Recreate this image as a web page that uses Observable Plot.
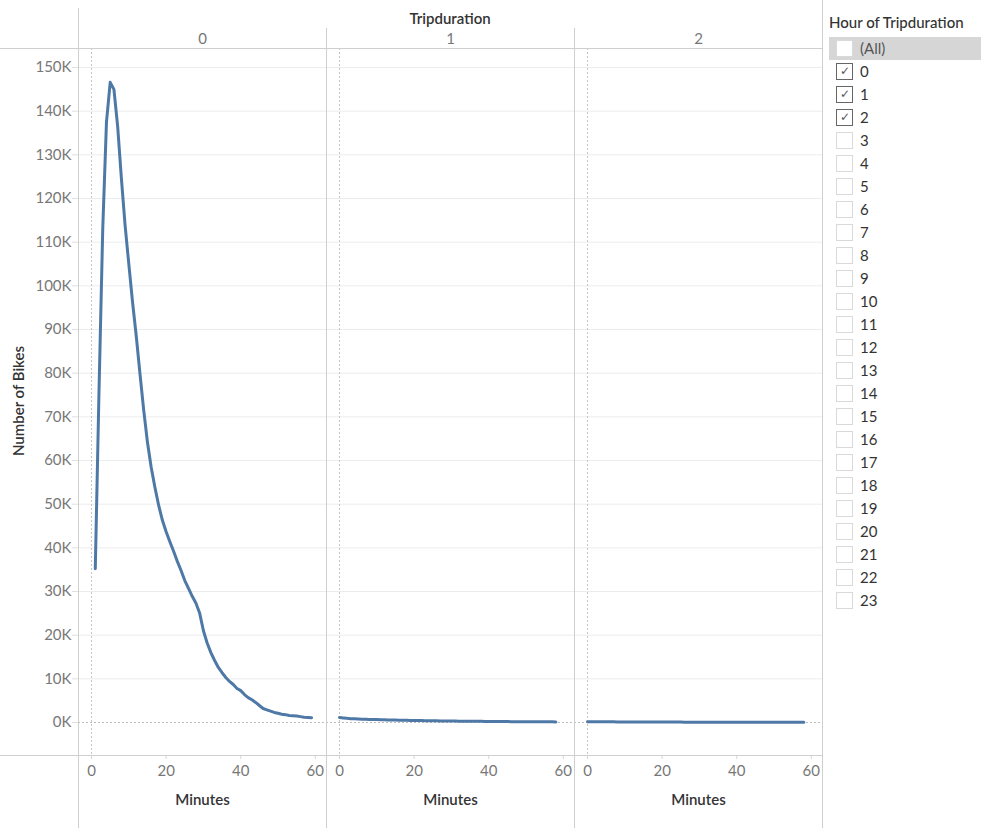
<!DOCTYPE html>
<html>
<head>
<meta charset="utf-8">
<script src="https://cdn.jsdelivr.net/npm/d3@7"></script>
<script src="https://cdn.jsdelivr.net/npm/@observablehq/plot@0.6"></script>
<style>
  body { margin: 0; background: #fff; font-family: Lato, "Open Sans", sans-serif; }
  #wrap { position: relative; width: 985px; height: 828px; overflow: hidden; }
  #chart { position: absolute; left: 0; top: 0; }
  #title { position: absolute; left: 78px; width: 744px; top: 8px; text-align: center; font-size: 15px; font-weight: 600; color: #333; line-height: 20px; }
  #ylabel { position: absolute; left: 18px; top: 401px; transform: translate(-50%, -50%) rotate(-90deg); white-space: nowrap; font-size: 15px; font-weight: 600; color: #333; }
  #legend { position: absolute; left: 822px; top: 0; width: 163px; height: 828px; border-left: 1px solid #cfcfcf; }
  #legend .ltitle { position: absolute; left: 6px; top: 12px; font-size: 15px; color: #333; font-weight: 500; line-height: 20px; white-space: nowrap; }
  #legend .row { position: absolute; left: 6px; width: 152px; height: 23px; font-size: 15px; color: #333; line-height: 23px; }
  #legend .row.all { background: #d6d6d6; color: #555; }
  #legend .box { position: absolute; left: 7px; top: 3px; width: 15px; height: 15px; border: 1px solid #d9d9d9; background: #fff; box-sizing: content-box; }
  #legend .box.on { border-color: #666; }
  #legend .box.on::after { content: "✓"; position: absolute; left: 3px; top: -4px; font-size: 12px; color: #555; font-family: "DejaVu Sans"; }
  #legend .lab { position: absolute; left: 31px; top: 0; }
  #chart svg g[aria-label="y-axis tick"] path, #chart svg g[aria-label="y-axis"] line { stroke: #e0e0e0; }
  #chart svg g[aria-label="x-axis tick"] path, #chart svg g[aria-label="x-axis"] line { stroke: #d6d6d6; }
</style>
</head>
<body>
<div id="wrap">
  <div id="chart"></div>
  <div id="title">Tripduration</div>
  <div id="ylabel">Number of Bikes</div>
  <div id="legend"></div>
</div>
<script>
// ---- data ----
const hours = ["0", "1", "2"];
const startMinute = [1, 0, 0];
// Number of bikes per minute of trip duration (hour 0, minutes 1..59)
const bikes0 = [35200, 76000, 113000, 137500, 146600, 145000, 136500, 124600, 113800, 104900,
  96200, 88400, 79700, 71400, 64100, 58400, 53800, 49700, 46300, 43700,
  41400, 39200, 36900, 34800, 32500, 30700, 28900, 27300, 25000, 21000,
  18200, 16000, 14200, 12600, 11400, 10300, 9400, 8700, 7800, 7300,
  6400, 5700, 5200, 4600, 3900, 3200, 2900, 2600, 2300, 2100,
  1900, 1800, 1600, 1550, 1500, 1350, 1200, 1150, 1100];
// hour 1, minutes 0..58
const bikes1 = [1150, 1050, 950, 880, 840, 800, 770, 740, 710, 680,
  660, 630, 610, 590, 570, 550, 530, 510, 490, 470,
  460, 440, 430, 410, 400, 390, 380, 360, 350, 340,
  330, 320, 310, 300, 300, 290, 280, 270, 260, 250,
  240, 240, 230, 220, 220, 210, 200, 200, 190, 190,
  180, 180, 170, 170, 160, 160, 150, 150, 140];
// hour 2, minutes 0..58
const bikes2 = [200, 190, 180, 170, 160, 160, 150, 150, 140, 140,
  130, 130, 120, 120, 120, 110, 110, 110, 100, 100,
  100, 100, 90, 90, 90, 90, 80, 80, 80, 80,
  80, 70, 70, 70, 70, 70, 70, 60, 60, 60,
  60, 60, 60, 60, 50, 50, 50, 50, 50, 50,
  50, 50, 40, 40, 40, 40, 40, 40, 40];
const yTicks = [0, 10000, 20000, 30000, 40000, 50000, 60000, 70000, 80000, 90000, 100000, 110000, 120000, 130000, 140000, 150000];
const xTicks = [0, 20, 40, 60];
const legendItems = ["(All)", "0", "1", "2", "3", "4", "5", "6", "7", "8", "9", "10", "11", "12", "13", "14", "15", "16", "17", "18", "19", "20", "21", "22", "23"];
const checkedItems = ["0", "1", "2"];

// ---- table ----
const series = [bikes0, bikes1, bikes2];
const rows = hours.flatMap((h, i) => series[i].map((v, j) => ({hour: h, minute: startMinute[i] + j, bikes: v})));

// ---- layout ----
const W = 822, H = 828, ML = 78, MT = 48, MB = 73;

const chart = Plot.plot({
  width: W, height: H,
  marginLeft: ML, marginRight: 0, marginTop: MT, marginBottom: MB,
  style: {fontFamily: "Lato, 'Open Sans', sans-serif", fontSize: "15px", color: "#777", background: "transparent", overflow: "visible"},
  facet: {data: rows, x: "hour"},
  fx: {domain: hours, padding: 0, axis: "top", tickSize: 0, tickPadding: 5, label: null},
  x: {domain: [-3.5, 63], ticks: xTicks, tickSize: 4, tickPadding: 6, label: null},
  y: {domain: [-7557, 154351], ticks: yTicks, tickFormat: d => `${d / 1000}K`, tickSize: 6, tickPadding: 1, label: null},
  marks: [
    Plot.ruleY(yTicks.filter(d => d > 0), {stroke: "#ececec", strokeWidth: 1}),
    Plot.ruleY([0], {stroke: "#bdbdbd", strokeDasharray: "2,2"}),
    Plot.ruleX([0], {stroke: "#c4c4c4", strokeDasharray: "2,2"}),
    Plot.line(rows, {x: "minute", y: "bikes", z: "hour", stroke: "#4e79a7", strokeWidth: 3, strokeLinejoin: "round", strokeLinecap: "round"}),
    Plot.text(["Minutes"], {text: d => d, frameAnchor: "bottom", lineAnchor: "middle", dy: 45, fill: "#333", fontSize: 15, fontWeight: 600})
  ]
});
document.getElementById("chart").appendChild(chart);

// ---- Tableau-style pane borders ----
const svg = d3.select(chart);
const deco = svg.append("g").attr("stroke", "#cfcfcf").attr("stroke-width", 1).attr("shape-rendering", "crispEdges");
deco.append("line").attr("x1", 0).attr("x2", W).attr("y1", MT + 0.5).attr("y2", MT + 0.5);
deco.append("line").attr("x1", 0).attr("x2", W).attr("y1", H - MB + 0.5).attr("y2", H - MB + 0.5);
const bw = (W - ML) / hours.length;
for (let i = 0; i < hours.length; i++) {
  const x = Math.round(ML + i * bw) + 0.5;
  deco.append("line").attr("x1", x).attr("x2", x).attr("y1", i === 0 ? 8 : 28).attr("y2", H);
}

// ---- legend ----
const legend = d3.select("#legend");
legend.append("div").attr("class", "ltitle").text("Hour of Tripduration");
legendItems.forEach((item, i) => {
  const row = legend.append("div").attr("class", "row" + (i === 0 ? " all" : "")).style("top", (37 + i * 23) + "px");
  row.append("div").attr("class", "box" + (checkedItems.includes(item) ? " on" : ""));
  row.append("div").attr("class", "lab").text(item);
});
</script>
</body>
</html>
